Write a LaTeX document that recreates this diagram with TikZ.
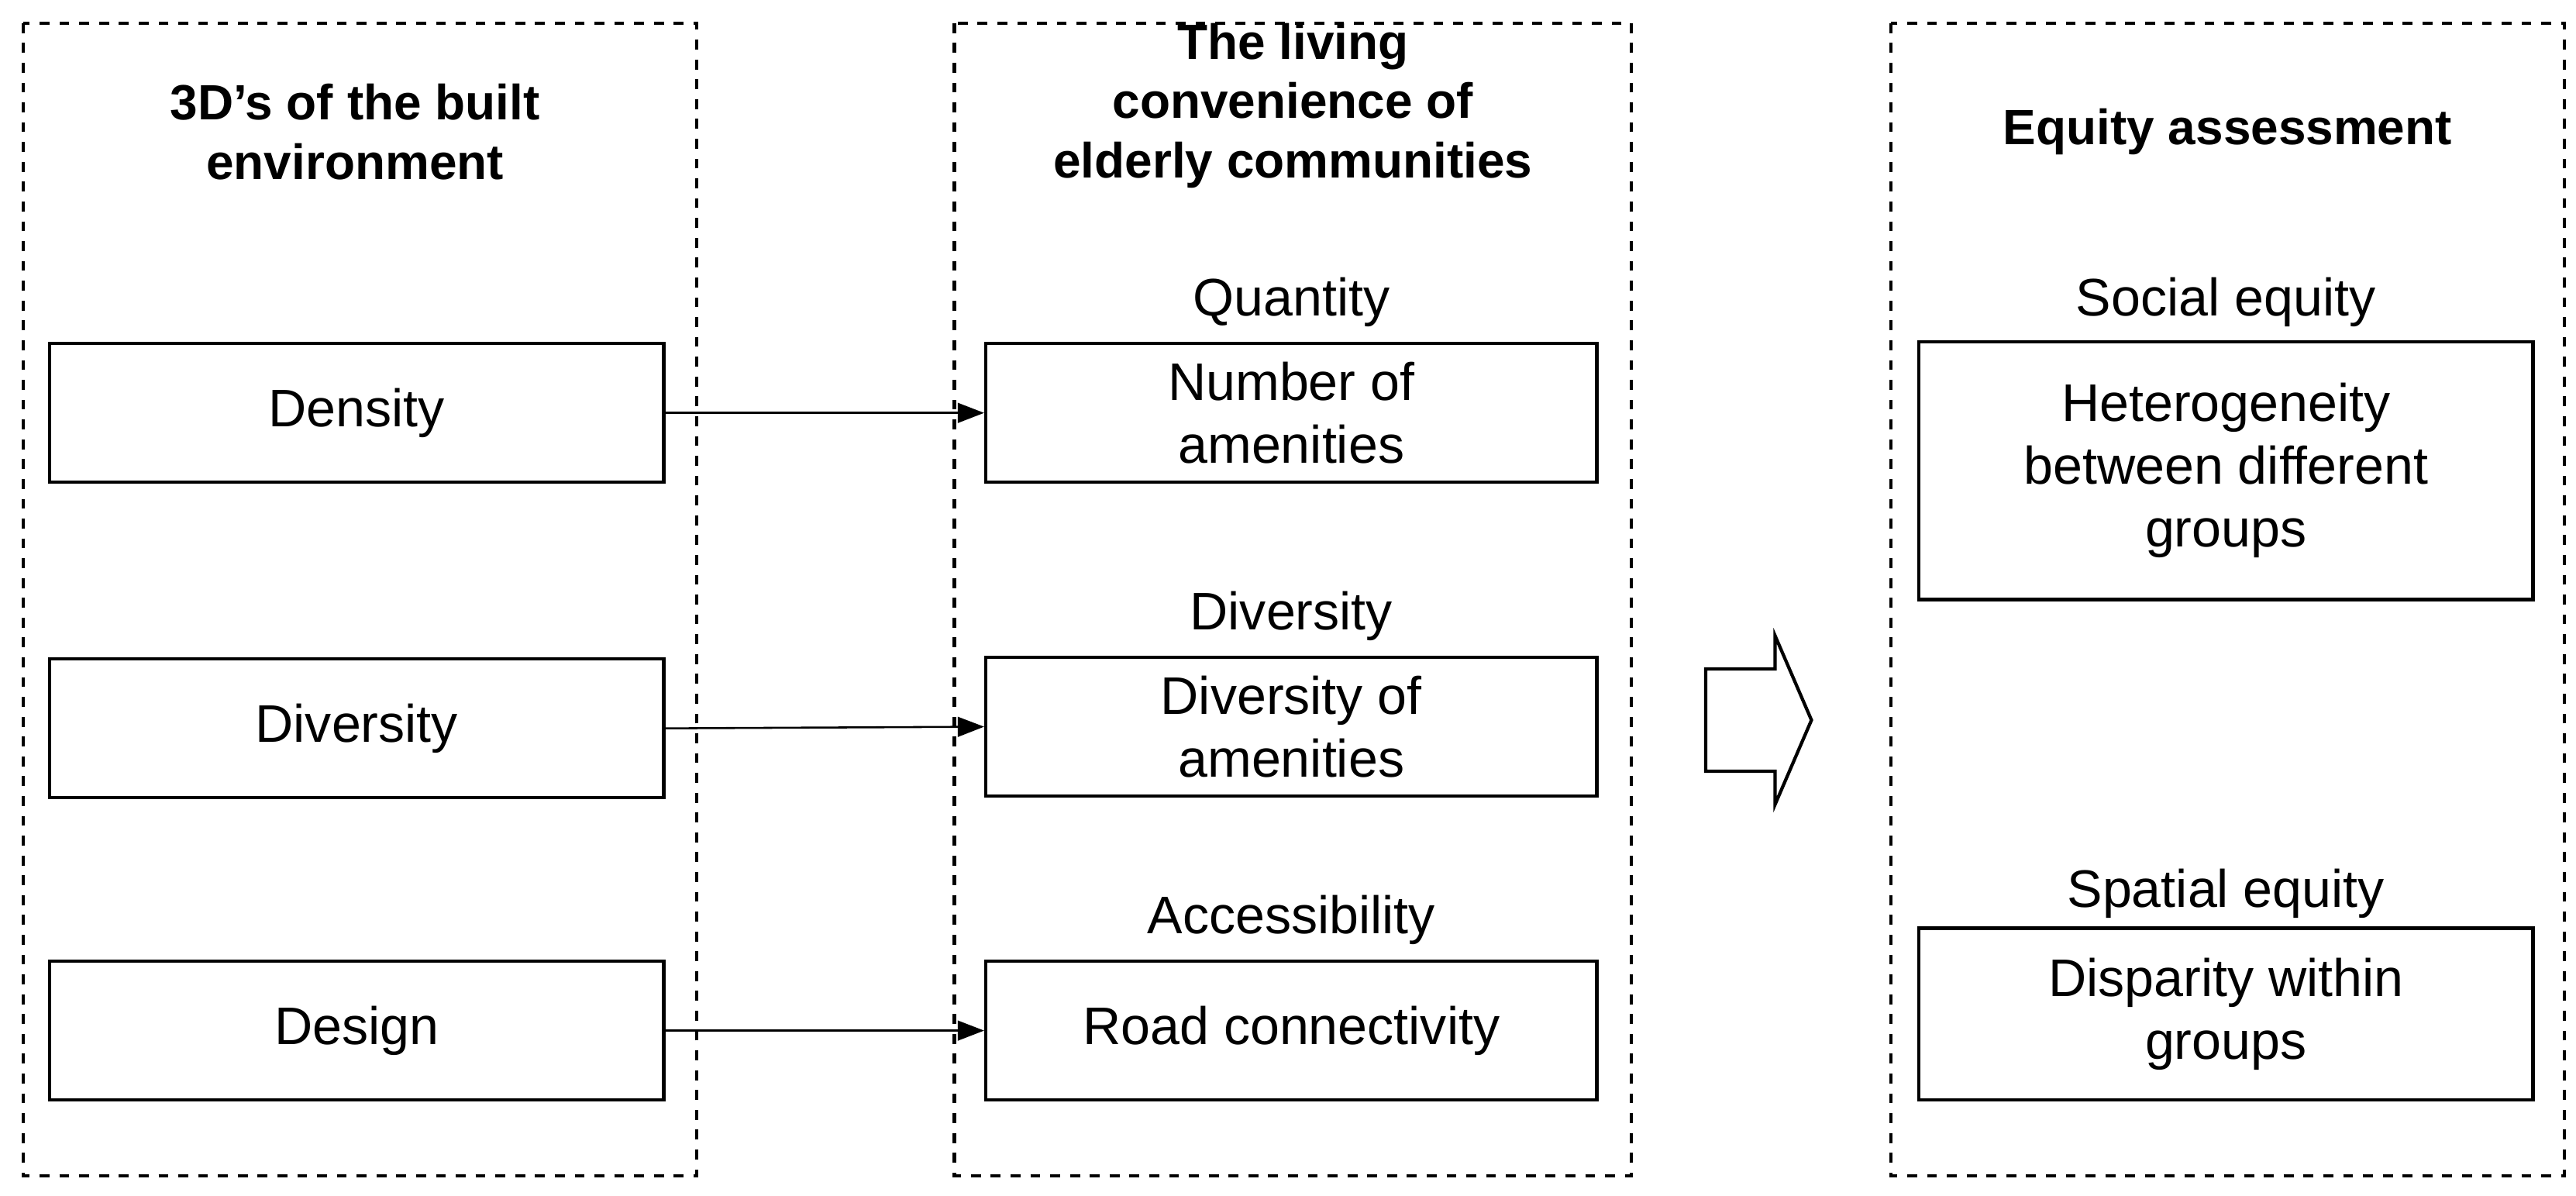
\documentclass[tikz,border=0pt]{standalone}
\usepackage{fontspec}
\setmainfont{Liberation Sans}
\usetikzlibrary{arrows.meta}
\begin{document}
\begin{tikzpicture}[x=0.5pt,y=-0.5pt,
 frame/.style={draw,dashed,line width=1pt},
 box/.style={draw,line width=1pt,align=center,font=\fontsize{16}{19}\selectfont,inner sep=0pt},
 lab/.style={font=\fontsize{16}{19}\selectfont},
 head/.style={font=\fontsize{15}{18}\selectfont\bfseries,align=center},
 con/.style={-{Triangle[length=8pt,width=6pt]},line width=0.6pt}]
\useasboundingbox (0,0) rectangle (1560,724);
\draw[frame] (14,14) rectangle (422,712);
\draw[frame] (578,14) rectangle (988,712);
\draw[frame] (1145,14) rectangle (1553,712);
\node[head] (h1) at (215,80) {3D’s of the built\\environment};
\node[head] (h2) at (783,64) {The living\\convenience of\\elderly communities};
\node[head] (h3) at (1349,80) {Equity assessment};
\node[box,minimum width=186pt,minimum height=42pt] (den) at (216,250) {Density};
\node[box,minimum width=186pt,minimum height=42pt] (div) at (216,441) {Diversity};
\node[box,minimum width=186pt,minimum height=42pt] (des) at (216,624) {Design};
\node[box,minimum width=185pt,minimum height=42pt] (num) at (782,250) {Number of\\amenities};
\node[box,minimum width=185pt,minimum height=42pt] (dva) at (782,440) {Diversity of\\amenities};
\node[box,minimum width=185pt,minimum height=42pt] (road) at (782,624) {Road connectivity};
\node[box,minimum width=186pt,minimum height=78pt] (het) at (1348,285) {Heterogeneity\\between different\\groups};
\node[box,minimum width=186pt,minimum height=52pt] (dis) at (1348,614) {Disparity within\\groups};
\node[lab] (q) at (782,183) {Quantity};
\node[lab] (d) at (782,373) {Diversity};
\node[lab] (a) at (782,557) {Accessibility};
\node[lab] (s) at (1348,183) {Social equity};
\node[lab] (sp) at (1348,541) {Spatial equity};
\draw[con] (den.east) -- (num.west);
\draw[con] (div.east) -- (dva.west);
\draw[con] (des.east) -- (road.west);
\draw[line width=1pt,fill=white] (1033,405) -- (1075,405) -- (1075,385) -- (1097,436) -- (1075,487) -- (1075,467) -- (1033,467) -- cycle;
\end{tikzpicture}
\end{document}
